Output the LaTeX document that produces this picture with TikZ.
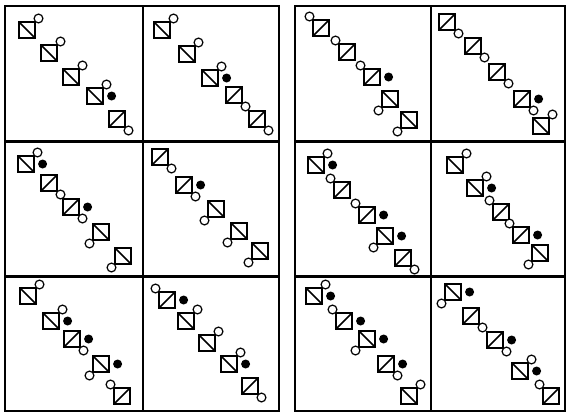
\documentclass[tikz,border=0pt]{standalone}
\usetikzlibrary{positioning}

\begin{document}
\begin{tikzpicture}[
    x=1pt, y=-1pt,
    frame/.style={line width=2.2pt},
    tile/.style={rectangle, draw, line width=2pt, minimum size=16.8pt, inner sep=0pt, outer sep=0pt},
    diag/.style={line width=1.7pt},
    ring/.style={circle, draw, line width=1.2pt, fill=white, minimum size=8.8pt, inner sep=0pt, outer sep=0pt},
    dot/.style={circle, fill=black, minimum size=9pt, inner sep=0pt}
]
\useasboundingbox (0,0) rectangle (570,416);

% Left panel
\draw[frame] (5,6) rectangle (279,411);
\draw[frame] (143,6) -- (143,411);
\draw[frame] (5,141.5) -- (279,141.5);
\draw[frame] (5,276.5) -- (279,276.5);

% Right panel
\draw[frame] (295,6) rectangle (565,411);
\draw[frame] (431,6) -- (431,411);
\draw[frame] (295,141.5) -- (565,141.5);
\draw[frame] (295,276.5) -- (565,276.5);

% Tiles per cell: x/y/corner of the ring, then the tiles with a dot
\foreach \cell/\tilelist/\dotlist in {
    A/{27/30/45, 49/53/45, 71/77/45, 95/96/45, 117/119/-45}/{4},
    B/{162/30/45, 187/54/45, 210/78/45, 234/95/-45, 257/119/-45}/{3},
    C/{26/164/45, 49/183/-45, 71/207/-45, 101/232/-135, 123/256/-135}/{1,3},
    D/{160/157/-45, 184/185/-45, 216/209/-135, 239/231/-135, 260/251/-135}/{2},
    E/{28/296/45, 51/321/45, 72/339/-45, 101/364/-135, 122/396/135}/{2,3,4},
    F/{167/300/135, 186/321/45, 207/343/45, 229/364/45, 250/386/-45}/{1,4},
    G/{321/28/135, 347/52/135, 372/77/135, 390/99/-135, 409/120/-135}/{3},
    H/{447/22/-45, 473/46/-45, 497/72/-45, 522/99/-45, 541/126/45}/{4},
    I/{316/165/45, 342/190/135, 367/215/135, 385/236/-135, 403/258/-45}/{1,3,4},
    J/{455/165/45, 475/188/45, 501/212/135, 521/235/135, 540/253/-135}/{2,4},
    K/{314/296/45, 344/321/135, 367/339/-135, 386/364/-45, 409/396/45}/{1,2,3,4},
    L/{453/292/-135, 471/316/-45, 495/340/-45, 520/371/45, 551/396/135}/{1,3,4}%
} {
    \foreach \x/\y/\a [count=\i, evaluate=\a as \b using int(\a+180),
        evaluate=\a as \p using int(\a+90), evaluate=\a as \q using int(\a-90)] in \tilelist {
        \node[tile] (\cell\i) at (\x,\y) {};
        \draw[diag] (\cell\i.\p) -- (\cell\i.\q);
        \node[ring, anchor=\b] (r\cell\i) at (\cell\i.\a) {};
    }
    \foreach \i in \dotlist
        \node[dot, right=3.5pt of \cell\i] (d\cell\i) {};
}

\end{tikzpicture}
\end{document}
